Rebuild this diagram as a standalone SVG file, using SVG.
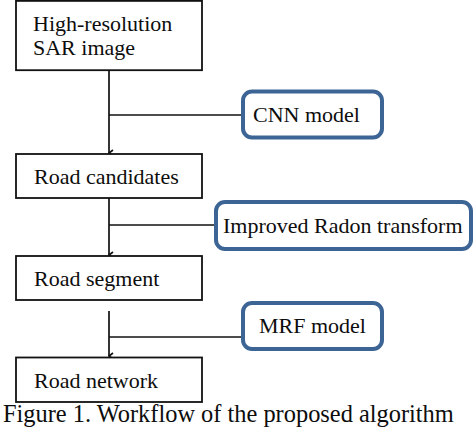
<svg xmlns="http://www.w3.org/2000/svg" width="474" height="431" viewBox="0 0 474 431">
<style>
text{font-family:"Liberation Serif","Times New Roman",serif;font-size:22px;fill:#0d0d0d}
.box{fill:#fff;stroke:#111;stroke-width:1.8}
.rbox{fill:#fff;stroke:#3c6494;stroke-width:4}
.ln{stroke:#111;stroke-width:1.7;fill:none}
.cap{font-size:24.4px}
</style>
<defs>
<marker id="arr" viewBox="0 0 10 10" refX="5" refY="9" markerWidth="10" markerHeight="10" markerUnits="userSpaceOnUse" orient="auto-start-reverse">
<path d="M2,5 L5,9 L8,5" fill="none" stroke="#111" stroke-width="1.7"/>
</marker>
</defs>
<g id="connectors">
<line class="ln" x1="109" y1="70" x2="109" y2="153" marker-end="url(#arr)"/>
<line class="ln" x1="109" y1="115" x2="241" y2="115"/>
<line class="ln" x1="109" y1="198" x2="109" y2="255" marker-end="url(#arr)"/>
<line class="ln" x1="109" y1="225" x2="214" y2="225"/>
<line class="ln" x1="109" y1="311" x2="109" y2="356" marker-end="url(#arr)"/>
<line class="ln" x1="109" y1="337" x2="241" y2="337"/>
</g>
<g id="n1"><rect class="box" x="16" y="0.9" width="186" height="69.3"/><text x="33" y="31">High-resolution</text><text x="33" y="54.5">SAR image</text></g>
<g id="n2"><rect class="box" x="16" y="154" width="186" height="44"/><text x="34" y="184">Road candidates</text></g>
<g id="n3"><rect class="box" x="16" y="256" width="186" height="44"/><text x="34" y="286">Road segment</text></g>
<g id="n4"><rect class="box" x="16" y="357.5" width="186" height="44.5"/><text x="34" y="388">Road network</text></g>
<g id="cnn"><rect class="rbox" x="243" y="91.5" width="139" height="46" rx="9"/><text x="253" y="122">CNN model</text></g>
<g id="radon"><rect class="rbox" x="216" y="202" width="255" height="47" rx="9"/><text x="223" y="233">Improved Radon transform</text></g>
<g id="mrf"><rect class="rbox" x="243" y="303" width="139" height="46" rx="9"/><text x="259" y="333">MRF model</text></g>
<text class="cap" x="3" y="422">Figure 1. Workflow of the proposed algorithm</text>
</svg>
